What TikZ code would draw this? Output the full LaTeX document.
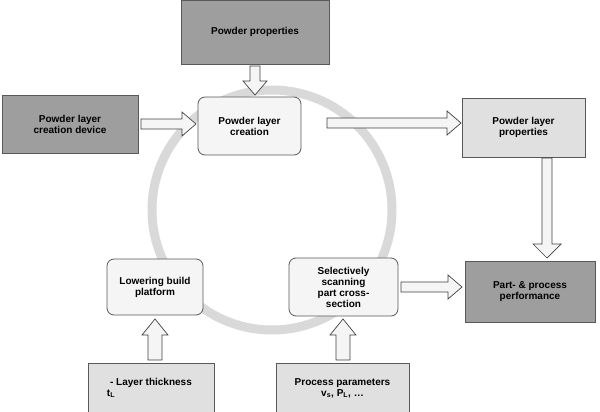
\documentclass[tikz,border=0pt]{standalone}
\usepackage{fontspec}
\setmainfont{Liberation Sans}
\usetikzlibrary{shapes.arrows}
\begin{document}
\begin{tikzpicture}[x=1pt,y=-1pt,
 box/.style={draw=gray!70!black,line width=0.8pt,font=\bfseries\fontsize{10}{11}\selectfont,align=center,inner sep=2pt},
 dark/.style={box,fill=black!38},
 lite/.style={box,fill=black!12},
 rnd/.style={box,fill=black!4,rounded corners=7pt},
 barr/.style={draw=black!75,fill=black!4,line width=0.7pt}]
\useasboundingbox (0,0) rectangle (600,412);
\draw[black!15,line width=9pt] (272,210) circle[radius=120];
\node[dark,minimum width=148,minimum height=64] (pp) at (255,32) {Powder properties};
\node[dark,minimum width=136,minimum height=58] (dev) at (70,124) {Powder layer\\creation device};
\node[rnd,minimum width=103,minimum height=58] (cr) at (249.5,126) {Powder layer\\creation};
\node[lite,minimum width=123,minimum height=59] (lp) at (523.5,127.5) {Powder layer\\properties};
\node[rnd,minimum width=96,minimum height=56] (low) at (155,287) {Lowering build\\platform};
\node[rnd,minimum width=109,minimum height=58] (sc) at (343.5,287) {Selectively\\scanning\\part cross-\\section};
\node[dark,minimum width=130,minimum height=61] (pf) at (530,291.5) {Part- \& process\\performance};
\node[lite,minimum width=126,minimum height=49] (lt) at (151,388) {- Layer thickness\\t\textsubscript{L}\hspace*{8em}};
\node[lite,minimum width=133,minimum height=49] (par) at (342.5,388) {Process parameters\\v\textsubscript{s}, P\textsubscript{L}, \dots};
% block arrows
\newcommand\harr[4]{\draw[barr] (#1,#3-5) -- (#2-14,#3-5) -- (#2-14,#3-#4) -- (#2,#3) -- (#2-14,#3+#4) -- (#2-14,#3+5) -- (#1,#3+5) -- cycle;}
\newcommand\varr[4]{\draw[barr] (#3-5,#1) -- (#3-5,#2-14) -- (#3-#4,#2-14) -- (#3,#2) -- (#3+#4,#2-14) -- (#3+5,#2-14) -- (#3+5,#1) -- cycle;}
\newcommand\uarr[4]{\draw[barr] (#3-7,#1) -- (#3-7,#2+16) -- (#3-13,#2+16) -- (#3,#2) -- (#3+13,#2+16) -- (#3+7,#2+16) -- (#3+7,#1) -- cycle;}
\varr{66}{95}{255}{12}
\harr{141}{196}{124}{12}
\harr{327}{461}{123}{12}
\varr{158}{258}{547}{14}
\uarr{360}{319}{155}{0}
\uarr{360}{319}{343}{0}
\harr{401}{462}{287}{12}
\end{tikzpicture}
\end{document}
